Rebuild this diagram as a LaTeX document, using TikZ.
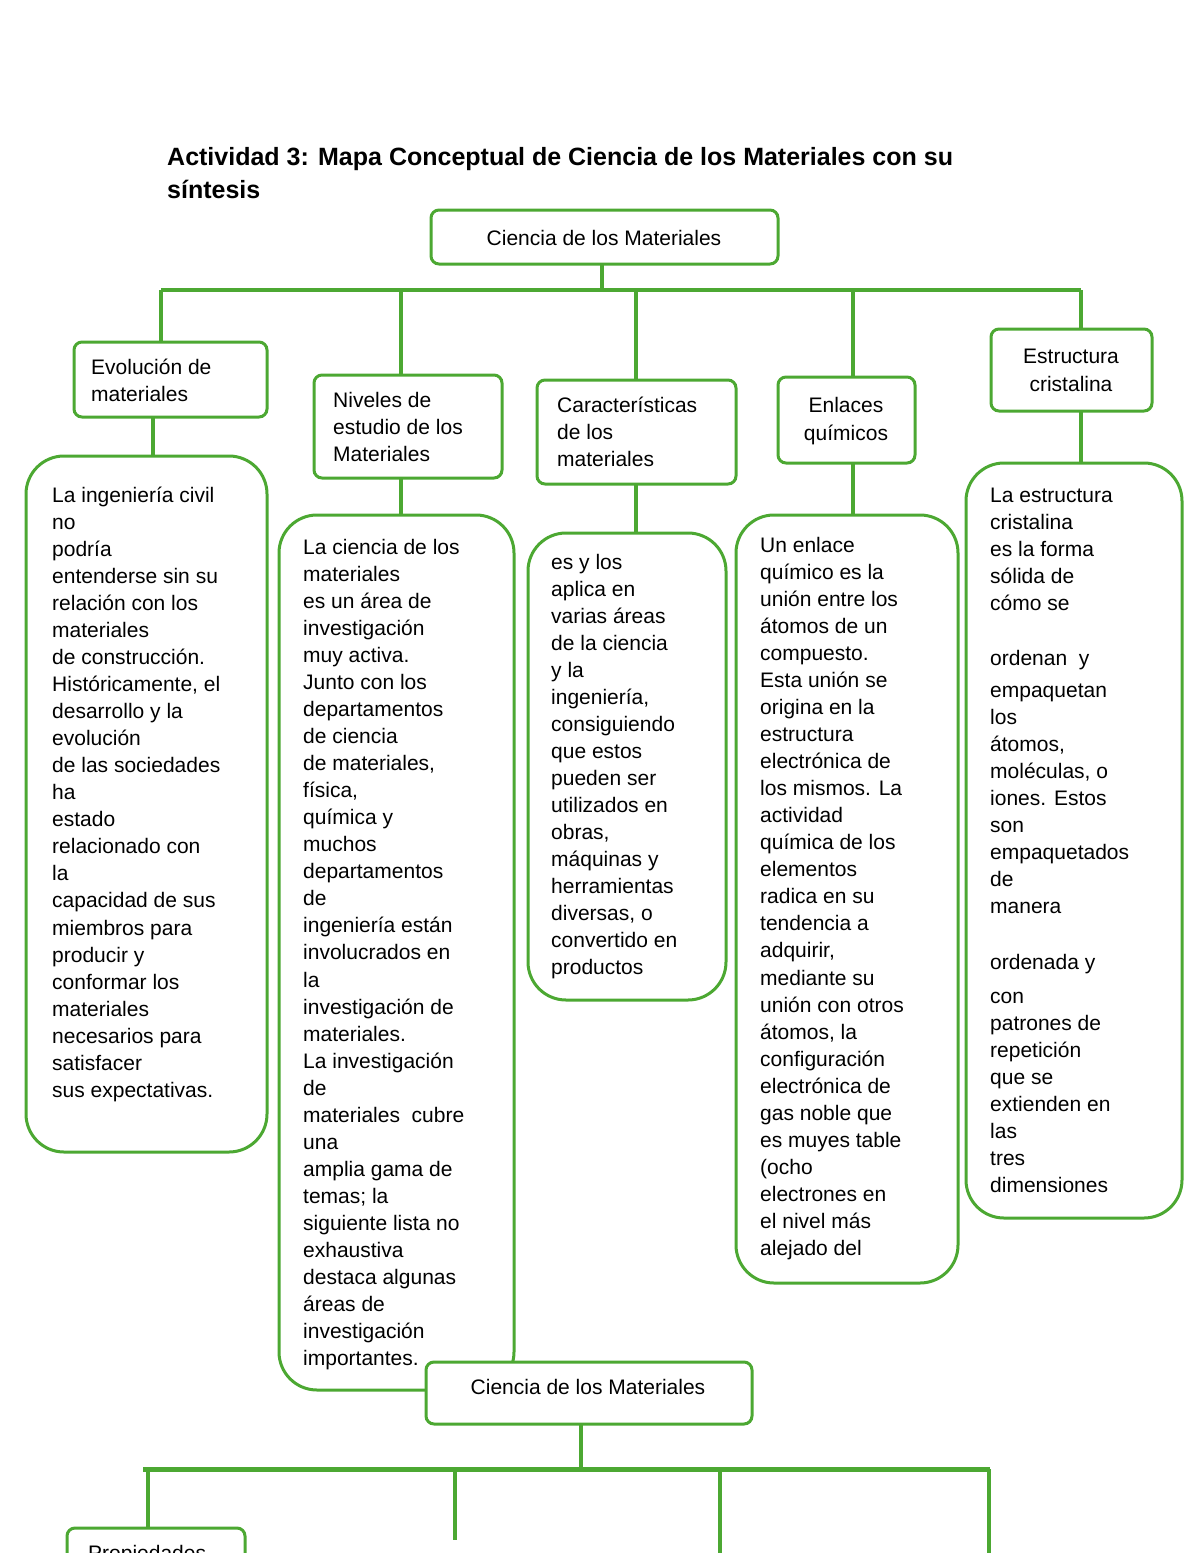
\documentclass[tikz,border=0pt]{standalone}
\usepackage{fontspec}
\setmainfont{Liberation Sans}
\definecolor{gr}{RGB}{76,168,50}
\newcommand{\fl}{\rule{0pt}{16pt}}
\begin{document}
\begin{tikzpicture}[x=1pt,y=-1pt,
  txt/.style={inner sep=0pt,align=left,anchor=north west,font=\fontsize{21}{27.05}\selectfont},
  ctxt/.style={inner sep=0pt,align=center,font=\fontsize{21}{28}\selectfont},
  hbox/.style={draw=gr,line width=3pt,rounded corners=8pt,fill=white},
  bbox/.style={draw=gr,line width=3pt,rounded corners=38pt},
  ln/.style={draw=gr,line width=3.5pt}]
\useasboundingbox (0,0) rectangle (1200,1553);
\clip (0,0) rectangle (1200,1553);
\node[inner sep=0pt,anchor=base west,font=\fontsize{25}{33}\bfseries\selectfont] (title) at (167,165) {Actividad 3: Mapa Conceptual de Ciencia de los Materiales con su};
\node[inner sep=0pt,anchor=base west,font=\fontsize{25}{33}\bfseries\selectfont] (title2) at (167,198) {síntesis};
\coordinate (bus1) at (602,290);
\draw[ln] (161,290) -- (1081,290);
\draw[ln] (602,264) -- (bus1);
\draw[ln] (161,290) -- (161,342);
\draw[ln] (401,290) -- (401,375);
\draw[ln] (636,290) -- (636,380);
\draw[ln] (853,290) -- (853,378);
\draw[ln] (1081,290) -- (1081,329);
\draw[ln] (153,417) -- (153,456);
\draw[ln] (401,478) -- (401,515);
\draw[ln] (636,484) -- (636,533);
\draw[ln] (853,463) -- (853,515);
\draw[ln] (1081,411) -- (1081,463);
\draw[hbox] (431,210) rectangle (778,264);
\node[ctxt] (cm) at (604,238) {Ciencia de los Materiales};
\draw[hbox] (74,342) rectangle (267,417);
\draw[hbox] (314,375) rectangle (502,478);
\draw[hbox] (537,380) rectangle (736,484);
\draw[hbox] (778,377) rectangle (915,463);
\draw[hbox] (991,329) rectangle (1152,411);
\node[txt] (evo) at (91,358) {\fl Evolución de\\materiales};
\node[txt] (niv) at (333,391) {\fl Niveles de\\estudio de los\\Materiales};
\node[txt] (car) at (557,396) {\fl Características\\de los\\materiales};
\node[ctxt] (enl) at (846,421) {Enlaces\\químicos};
\node[ctxt] (est) at (1071,370) {Estructura\\cristalina};
\draw[bbox] (26,456) rectangle (267,1152);
\draw[bbox] (279,515) rectangle (514,1390);
\draw[bbox] (528,533) rectangle (726,1000);
\draw[bbox] (736,515) rectangle (958,1283);
\draw[bbox] (966,463) rectangle (1182,1218);
\node[txt] (t1) at (52,486) {\fl La ingeniería civil\\no\\podría\\entenderse sin su\\relación con los\\materiales\\de construcción.\\Históricamente, el\\desarrollo y la\\evolución\\de las sociedades\\ha\\estado\\relacionado con\\la\\capacidad de sus\\miembros para\\producir y\\conformar los\\materiales\\necesarios para\\satisfacer\\sus expectativas.};
\node[txt] (t2) at (303,538) {\fl La ciencia de los\\materiales\\es un área de\\investigación\\muy activa.\\Junto con los\\departamentos\\de ciencia\\de materiales,\\física,\\química y\\muchos\\departamentos\\de\\ingeniería están\\involucrados en\\la\\investigación de\\materiales.\\La investigación\\de\\materiales~~cubre\\una\\amplia gama de\\temas; la\\siguiente lista no\\exhaustiva\\destaca algunas\\áreas de\\investigación\\importantes.};
\node[txt] (t3) at (551,553) {\fl es y los\\aplica en\\varias áreas\\de la ciencia\\y la\\ingeniería,\\consiguiendo\\que estos\\pueden ser\\utilizados en\\obras,\\máquinas y\\herramientas\\diversas, o\\convertido en\\productos};
\node[txt] (t4) at (760,536) {\fl Un enlace\\químico es la\\unión entre los\\átomos de un\\compuesto.\\Esta unión se\\origina en la\\estructura\\electrónica de\\los mismos. La\\actividad\\química de los\\elementos\\radica en su\\tendencia a\\adquirir,\\mediante su\\unión con otros\\átomos, la\\configuración\\electrónica de\\gas noble que\\es muyes table\\(ocho\\electrones en\\el nivel más\\alejado del};
\node[txt] (t5a) at (990,486) {\fl La estructura\\cristalina\\es la forma\\sólida de\\cómo se};
\node[txt] (t5b) at (990,649) {\fl ordenan~~y};
\node[txt] (t5c) at (990,681) {\fl empaquetan\\los\\átomos,\\moléculas, o\\iones. Estos\\son\\empaquetados\\de\\manera};
\node[txt] (t5d) at (990,953) {\fl ordenada y};
\node[txt] (t5e) at (990,987) {\fl con\\patrones de\\repetición\\que se\\extienden en\\las\\tres\\dimensiones};
\coordinate (bus2) at (581,1469);
\draw[ln] (581,1424) -- (bus2);
\draw[draw=gr,line width=5pt] (143,1469) -- (990,1469);
\draw[ln] (148,1469) -- (148,1528);
\draw[ln] (455,1469) -- (455,1540);
\draw[ln] (720,1469) -- (720,1553);
\draw[ln] (989,1469) -- (989,1553);
\draw[hbox] (426,1362) rectangle (752,1424);
\node[ctxt] (cm2) at (588,1387) {Ciencia de los Materiales};
\draw[hbox] (67,1528) rectangle (245,1600);
\node[inner sep=0pt,anchor=base west,font=\fontsize{21}{27}\selectfont] (prop) at (88,1560) {Propiedades};
\end{tikzpicture}
\end{document}
